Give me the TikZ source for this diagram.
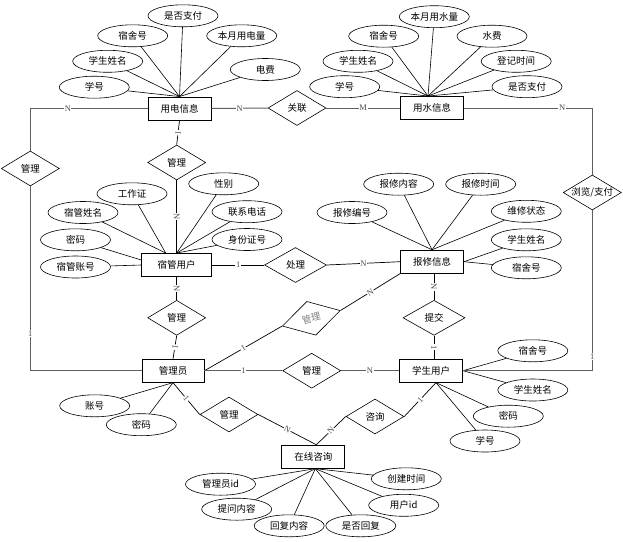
\documentclass[tikz,border=0pt]{standalone}
\usepackage{fontspec}
\newfontfamily\cjkf{Noto Sans CJK SC}
\newfontfamily\labf{Liberation Serif}
\usetikzlibrary{shapes.geometric}
\begin{document}
\begin{tikzpicture}[x=1pt,y=-1pt,
  txt/.style={font=\cjkf\fontsize{9.5}{11}\selectfont},
  ent/.style={txt,draw,line width=0.9pt,minimum width=63pt,minimum height=23pt,inner sep=0pt},
  attr/.style={txt,draw,ellipse,line width=0.6pt,minimum width=70pt,minimum height=22pt,inner sep=0pt},
  relbox/.style={txt,draw,diamond,aspect=1.7,line width=0.6pt,minimum width=58pt,minimum height=35pt,inner sep=0pt},
  al/.style={line width=0.6pt},
  rl/.style={line width=0.7pt},
  rg/.style={line width=1pt,draw=gray!75!black},
  lab/.style={fill=white,inner sep=0.6pt,font=\labf\fontsize{8.5}{8.5}\selectfont,text=gray!60!black}
]
\useasboundingbox (0,0) rectangle (623,541);

% entities
\node[ent] (yd) at (179.5,108.5) {用电信息};
\node[ent] (ys) at (432,108) {用水信息};
\node[ent,minimum width=70pt] (sg) at (176.7,265) {宿管用户};
\node[ent] (bx) at (432,261.7) {报修信息};
\node[ent,minimum width=62pt] (gly) at (173,370.7) {管理员};
\node[ent] (xs) at (431,370.7) {学生用户};
\node[ent] (zx) at (313.3,456.7) {在线咨询};

% relationships
\node[relbox] (rG) at (297,108) {关联};
\node[relbox] (rL) at (30.3,168.5) {管理};
\node[relbox] (rA) at (176.7,162.5) {管理};
\node[relbox,minimum width=62pt] (rC) at (295.5,265) {处理};
\node[relbox] (rP) at (592.3,192.5) {浏览/支付};
\node[relbox,rotate=15,text=gray,minimum width=60pt] (rT) at (311.3,318.3) {管理};
\node[relbox] (rB) at (176.7,317.8) {管理};
\node[relbox] (rS) at (311.7,370.7) {管理};
\node[relbox,minimum width=62pt] (rJ) at (434,317.8) {提交};
\node[relbox] (rQ) at (229,414.5) {管理};
\node[relbox] (rZ) at (375,416.5) {咨询};

% attributes of 用电信息
\node[attr] (a1) at (183,15.8) {是否支付};
\node[attr] (a2) at (132.7,35.8) {宿舍号};
\node[attr] (a3) at (241.7,35.8) {本月用电量};
\node[attr] (a4) at (107.7,61.3) {学生姓名};
\node[attr] (a5) at (265.3,69.5) {电费};
\node[attr] (a6) at (94.3,87.2) {学号};
\foreach \a in {a1,a2,a3,a4,a5,a6} \draw[al] (\a) -- (yd.north);

% attributes of 用水信息
\coordinate (ysn) at ([xshift=-4pt]ys.north);
\node[attr] (b1) at (434.3,16.7) {本月用水量};
\node[attr] (b2) at (383.7,36.2) {宿舍号};
\node[attr] (b3) at (492,36.2) {水费};
\node[attr] (b4) at (358,61.3) {学生姓名};
\node[attr] (b5) at (516.2,61.3) {登记时间};
\node[attr] (b6) at (344.7,86.7) {学号};
\node[attr] (b7) at (527,86.7) {是否支付};
\foreach \a in {b1,b2,b3,b4,b5,b6,b7} \draw[al] (\a) -- (ysn);

% attributes of 宿管用户
\coordinate (sgl) at ([xshift=-11pt]sg.north);
\coordinate (sgw) at ([yshift=5pt]sg.west);
\node[attr] (c1) at (132,193.8) {工作证};
\node[attr] (c2) at (223.7,183.8) {性别};
\node[attr] (c3) at (83,212.5) {宿管姓名};
\node[attr] (c4) at (247,211.7) {联系电话};
\node[attr] (c5) at (75.5,239.8) {密码};
\node[attr] (c6) at (247,239.5) {身份证号};
\node[attr] (c7) at (75.5,267) {宿管账号};
\draw[al] (c1) -- (sgl);
\draw[al] (c3) -- (sgl);
\draw[al] (c2) -- (sg.north);
\draw[al] (c4) -- (sg.north);
\draw[al] (c6) -- (sg.north);
\draw[al] (c5) -- (sgw);
\draw[al] (c7) -- (sg.west);

% attributes of 报修信息
\node[attr] (d1) at (398.7,184.2) {报修内容};
\node[attr] (d2) at (480.7,184.2) {报修时间};
\node[attr] (d3) at (352,212.5) {报修编号};
\node[attr] (d4) at (526.3,211.3) {维修状态};
\node[attr] (d5) at (526.3,239.8) {学生姓名};
\node[attr] (d6) at (526.3,267.8) {宿舍号};
\foreach \a in {d1,d2,d3,d4} \draw[al] (\a) -- (bx.north);
\draw[al] (d5) -- (bx.east);
\draw[al] (d6) -- (bx.east);

% attributes of 学生用户
\coordinate (xsb) at ([xshift=5pt]xs.south);
\node[attr] (e1) at (532.8,350.8) {宿舍号};
\node[attr] (e2) at (532.8,390) {学生姓名};
\node[attr] (e3) at (508.3,416.2) {密码};
\node[attr] (e4) at (485,441) {学号};
\draw[al] (e1) -- (xs.east);
\draw[al] (e2) -- (xs.east);
\draw[al] (e3) -- (xsb);
\draw[al] (e4) -- (xsb);

% attributes of 管理员
\node[attr] (f1) at (94.7,405.8) {账号};
\node[attr] (f2) at (141.3,424.7) {密码};
\draw[al] (f1) -- (gly.south);
\draw[al] (f2) -- (gly.south);

% attributes of 在线咨询
\coordinate (zxs) at ([xshift=2pt]zx.south);
\node[attr] (g1) at (220.5,484.2) {管理员id};
\node[attr] (g2) at (406.3,478.8) {创建时间};
\node[attr] (g3) at (236.7,509.2) {提问内容};
\node[attr] (g4) at (403.7,505.3) {用户id};
\node[attr] (g5) at (289.2,525.8) {回复内容};
\node[attr] (g6) at (360.8,525.8) {是否回复};
\foreach \a in {g1,g2,g3,g4,g5,g6} \draw[al] (\a) -- (zxs);

% relationship connectors
\draw[rg] (yd.east) -- node[lab]{N} (rG.west);
\draw[rg] (rG.east) -- node[lab]{M} (ys.west);
\draw[rg] (yd.west) -- node[lab,pos=0.68]{N} (yd.west -| rL.north) -- (rL.north);
\draw[rg] (rL.south) -- node[lab,pos=0.8]{1} (rL.south |- gly.west) -- (gly.west);
\draw[rg] (ys.east) -- node[lab,pos=0.765]{N} (ys.east -| rP.north) -- (rP.north);
\draw[rg] (rP.south) -- node[lab,pos=0.91]{1} (rP.south |- xs.east) -- (xs.east);

\draw[rl] (yd.south) -- node[lab,sloped]{1} (rA.north);
\draw[rl] (rA.south) -- node[lab,sloped]{N} (sg.north);
\draw[rl] (sg.east) -- node[lab]{1} (rC.west);
\draw[rl] (rC.east) -- node[lab]{N} (bx.west);
\draw[rl] (sg.south) -- node[lab,sloped]{N} (rB.north);
\draw[rl] (rB.south) -- node[lab,sloped]{1} (gly.north);
\draw[rl] (gly.east) -- node[lab,sloped]{1} (rT.west);
\draw[rl] (rT.east) -- node[lab,sloped]{N} (bx.south west);
\draw[rl] (rJ.north |- bx.south) -- node[lab,sloped]{N} (rJ.north);
\draw[rl] (rJ.south) -- node[lab,sloped]{1} (rJ.south |- xs.north);
\draw[rg] (gly.east) -- node[lab]{1} (rS.west);
\draw[rg] (rS.east) -- node[lab]{N} (xs.west);

\coordinate (zxn) at ([xshift=3pt]zx.north);
\draw[rl] (gly.south) -- node[lab,sloped]{1} (rQ.west);
\draw[rl] (rQ.east) -- node[lab,sloped]{N} (zxn);
\draw[rl] (xsb) -- node[lab,sloped]{1} (rZ.east);
\draw[rl] (rZ.west) -- node[lab,sloped]{N} (zxn);
\end{tikzpicture}
\end{document}
